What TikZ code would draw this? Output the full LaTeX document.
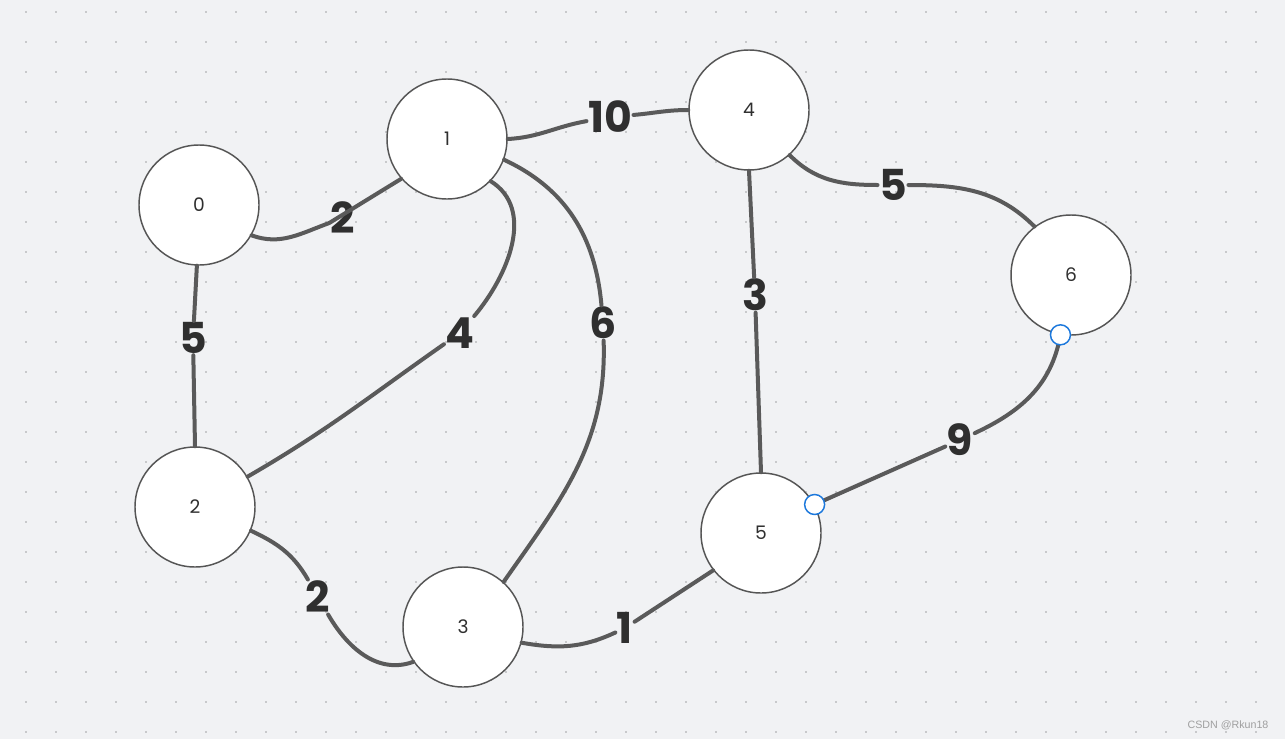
\documentclass[tikz,border=0pt]{standalone}
\usepackage{fontspec}
\setmainfont{Poppins}
\newfontfamily\markfont{Liberation Sans}
\usepackage{tikz}
\definecolor{bgc}{HTML}{F1F2F4}
\definecolor{dotc}{HTML}{A0A0A2}
\definecolor{linkc}{HTML}{5A5A5A}
\definecolor{rimc}{HTML}{555555}
\definecolor{txtc}{HTML}{2F2F2F}
\definecolor{handlec}{HTML}{1C78DC}

\begin{document}
\begin{tikzpicture}[
  x=0.75pt, y=-0.75pt,
  vtx/.style={circle, draw=rimc, line width=1.1pt, fill=white,
              minimum size=90pt, inner sep=0pt, font=\fontsize{14}{16}\selectfont, text=txtc},
  link/.style={draw=linkc, line width=3pt, line cap=round},
  lbl/.style={inner sep=1pt, font=\fontsize{32}{34}\selectfont\bfseries, text=txtc},
  handle/.style={circle, draw=handlec, line width=1.1pt, fill=white,
                 minimum size=15pt, inner sep=0pt}
]
  % Canvas
  \useasboundingbox (0,0) rectangle (1285,739);
  \fill[bgc] (0,0) rectangle (1285,739);
  \foreach \x in {26,56,...,1256}
    \foreach \y in {12,42,...,732}
      \fill[dotc] (\x,\y) circle (0.9);

  % Vertices
  \node[vtx] (n0) at (199,205) {0};
  \node[vtx] (n1) at (447,139) {1};
  \node[vtx] (n2) at (195,507) {2};
  \node[vtx] (n3) at (463,627) {3};
  \node[vtx] (n4) at (749,110) {4};
  \node[vtx] (n5) at (761,533) {5};
  \node[vtx] (n6) at (1071,275) {6};

  % Weights
  \node[lbl] (l01) at (343,218) {2};
  \node[lbl] (l02) at (193,338) {5};
  \node[lbl] (l12) at (460,333) {4};
  \node[lbl] (l13) at (603,323) {6};
  \node[lbl] (l14) at (610,117) {10};
  \node[lbl] (l45) at (755,295) {3};
  \node[lbl] (l46) at (893,185) {5};
  \node[lbl] (l56) at (960,440) {9};
  \node[lbl] (l35) at (625,628) {1};
  \node[lbl] (l23) at (318,597) {2};

  % Links
  \draw[link] (n0.-30) to[out=-20,in=200] (l01.200) -- (n1.-139);
  \draw[link] (n0.-92) -- (l02) -- (n2.90);
  \draw[link] (n1.-44) to[out=-32,in=50] (l12) to[out=215,in=30] (n2.30);
  \draw[link] (n1.-20) to[out=-25,in=95] (l13) to[out=-88,in=55] (n3.48);
  \draw[link] (n1.0) to[out=3,in=190] (l14) to[out=5,in=180] (n4.180);
  \draw[link] (n4.-90) -- (l45) -- (n5.90);
  \draw[link] (n4.-48) to[out=-45,in=180] (l46) to[out=0,in=135] (n6.127);
  \draw[link] (n6.-100) to[out=-100,in=25] (l56) -- (n5.28);
  \draw[link] (n3.-15) to[out=-10,in=205] (l35) -- (n5.218);
  \draw[link] (n2.-23) to[out=-25,in=120] (l23) to[out=-60,in=200] (n3.-145);

  % Selection handles
  \node[handle] (h6) at (n6.-100) {};
  \node[handle] (h5) at (n5.28) {};

  % Watermark
  \node[font=\markfont\fontsize{8}{9}\selectfont, text=gray!75] (mark) at (1228,725) {CSDN @Rkun18};
\end{tikzpicture}
\end{document}
